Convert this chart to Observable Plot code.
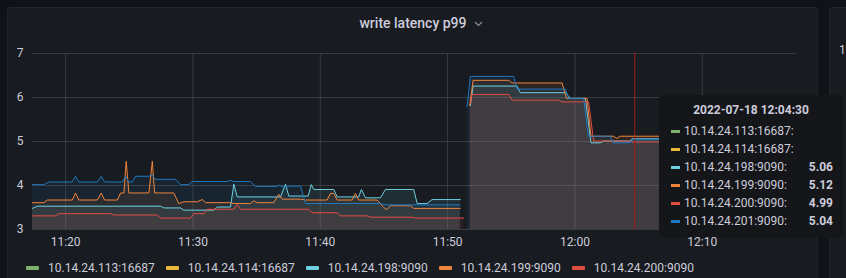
<!DOCTYPE html>
<html><head><meta charset="utf-8">
<script src="https://cdn.jsdelivr.net/npm/d3@7"></script>
<script src="https://cdn.jsdelivr.net/npm/@observablehq/plot@0.6"></script>
<style>
html,body{margin:0;padding:0;background:#111217;width:846px;height:278px;overflow:hidden;font-family:Roboto,"Noto Sans",sans-serif;}
#panel{position:absolute;left:7px;top:7px;width:811px;height:290px;background:#181b1f;border:1px solid #222429;border-radius:3px;box-sizing:border-box;}
#panel2{position:absolute;left:829px;top:7px;width:60px;height:290px;background:#181b1f;border:1px solid #222429;border-radius:3px;box-sizing:border-box;}
#p2label{position:absolute;left:839px;top:43px;color:#ccccdc;font-size:12px;}
#title{position:absolute;top:14px;left:0;width:842px;text-align:center;color:#ccccdc;font-size:14px;font-weight:500;line-height:18px;}
#title svg{vertical-align:middle;margin-left:7px;}
#chart{position:absolute;left:0;top:0;}
#legend{position:absolute;left:26px;top:260px;display:flex;align-items:center;color:#ccccdc;font-size:12px;white-space:nowrap;line-height:16px;}
#legend .it{display:flex;align-items:center;margin-right:11px;}
#legend .sw{width:13px;height:4px;margin-right:9px;border-radius:1px;}
#tooltip{position:absolute;left:659px;top:95px;width:184px;height:142px;background:#141619;border-radius:3px;color:#ccccdc;font-size:12px;}
#tooltip .hd{position:absolute;left:0;top:7px;width:100%;text-align:center;font-weight:700;line-height:16px;}
#tooltip .row{position:absolute;left:0;width:100%;height:16px;line-height:16px;}
#tooltip .sw{position:absolute;left:12px;top:7px;width:9px;height:3px;}
#tooltip .lb{position:absolute;left:25px;top:0;}
#tooltip .vl{position:absolute;right:10px;top:0;font-weight:700;}
</style></head>
<body>
<div id="panel"></div>
<div id="panel2"></div>
<div id="p2label">1</div>
<div id="title">write latency p99<svg width="9" height="6" viewBox="0 0 9 6"><polyline points="1,1 4.5,4.5 8,1" fill="none" stroke="#8e8e98" stroke-width="1.2"/></svg></div>
<div id="chart"></div>
<div id="legend"></div>
<div id="tooltip"></div>
<script>
// Series
const seriesNames = ["10.14.24.113:16687","10.14.24.114:16687","10.14.24.198:9090","10.14.24.199:9090","10.14.24.200:9090","10.14.24.201:9090"];
const seriesColors = ["#7EB26D","#EAB839","#6ED0E0","#EF843C","#E24D42","#1F78C1"];
const legendShown = 5;

// times: minutes after 11:00 on 2022-07-18; values: latency
const t113 = [], v113 = [];
const t114 = [], v114 = [];
const t198 = [17.4,17.78,27.46,27.72,29.03,29.29,31.64,31.91,32.95,33.21,33.48,36.88,37.27,37.53,39.05,39.29,39.49,41.06,41.33,43.02,43.23,43.55,44.73,45.12,47.34,47.61,48.39,48.78,51.0,51.3,51.79,52.00,55.45,55.71,59.25,59.64,60.82,61.26,61.99,62.25,64.35,64.5,77.0];
const v198 = [3.48,3.53,3.53,3.49,3.49,3.44,3.44,3.51,3.51,4.03,3.74,3.74,4.03,3.76,3.76,4.02,3.91,3.91,3.74,3.74,3.91,3.72,3.72,3.91,3.91,3.59,3.59,3.68,3.68,null,5.82,6.26,6.26,6.11,6.11,5.98,5.98,4.97,4.97,5.01,5.01,5.06,5.06];
const t199 = [17.4,18.30,18.56,20.53,20.78,21.04,22.49,22.80,23.06,24.06,24.32,24.58,24.76,24.97,26.54,26.81,26.99,28.50,28.89,29.29,30.34,30.73,30.99,32.95,33.21,34.52,34.78,35.05,36.35,36.74,37.01,38.45,38.84,40.54,40.80,41.06,41.33,42.50,42.76,43.02,44.47,44.98,45.24,45.51,47.08,47.34,51.0,51.3,51.73,52.00,54.80,55.06,58.99,59.33,60.95,61.26,63.04,63.30,63.56,77.0];
const v199 = [3.61,3.61,3.67,3.67,3.83,3.67,3.67,3.83,3.67,3.67,3.83,3.83,4.55,3.83,3.83,4.55,3.83,3.83,3.59,3.63,3.63,3.68,3.61,3.61,3.59,3.59,3.65,3.61,3.61,3.80,3.69,3.69,3.67,3.67,3.82,3.82,3.67,3.67,3.82,3.67,3.67,3.50,3.45,3.54,3.54,3.48,3.48,null,5.82,6.39,6.39,6.33,6.33,5.98,5.98,5.12,5.12,5.07,5.12,5.12];
const t200 = [17.4,19.22,19.47,23.53,23.79,27.20,27.46,29.81,30.07,30.86,31.12,33.21,33.48,33.74,39.10,39.36,41.33,41.59,43.68,43.94,47.21,47.47,51.26,51.5,51.79,51.92,54.80,55.06,58.72,58.99,61.07,61.47,64.35,64.5,77.0];
const v200 = [3.31,3.31,3.36,3.36,3.33,3.33,3.26,3.26,3.36,3.36,3.46,3.46,3.57,3.46,3.46,3.38,3.38,3.31,3.31,3.28,3.28,3.26,3.26,null,5.86,6.07,6.07,5.94,5.94,5.90,5.90,5.01,5.01,4.99,4.99];
const t201 = [17.4,18.30,18.69,20.53,20.78,21.04,22.49,22.80,23.06,24.45,24.71,24.97,25.24,25.49,26.54,26.81,27.06,28.63,29.03,29.68,29.94,32.69,32.95,33.21,34.52,34.91,36.62,36.74,37.01,38.45,38.84,44.73,45.12,51.0,51.3,51.53,51.79,55.19,55.45,59.25,59.51,60.68,61.05,62.78,62.99,64.35,64.5,77.0];
const v201 = [4.02,4.02,4.08,4.08,4.21,4.08,4.08,4.21,4.08,4.08,4.21,4.08,4.08,4.21,4.21,4.24,4.14,4.14,4.02,4.02,4.09,4.09,4.12,4.09,4.09,3.98,3.98,4.01,3.98,3.99,3.59,3.59,3.56,3.56,null,5.79,6.48,6.48,6.19,6.19,5.98,5.98,5.12,5.12,4.97,4.97,5.04,5.04];

const xTicks = ["11:20","11:30","11:40","11:50","12:00","12:10"];
const yTicks = [3,4,5,6,7];
const xDomainMin = [17.4, 77.4];
const hoverTime = "2022-07-18 12:04:30";
const cursorMin = 64.7;
const hoverValues = [null,null,"5.06","5.12","4.99","5.04"];

const base = Date.UTC(2022,6,18,11,0,0);
const toDate = m => new Date(base + m*60000);
const parseHM = s => { const [h,m] = s.split(":").map(Number); return new Date(Date.UTC(2022,6,18,h,m,0)); };
const xTickDates = xTicks.map(parseHM);

const times = [t113,t114,t198,t199,t200,t201];
const values = [v113,v114,v198,v199,v200,v201];
const rows = [];
seriesNames.forEach((s,i) => times[i].forEach((t,j) => rows.push({s, t: toDate(t), v: values[i][j] == null ? NaN : values[i][j]})));

const chart = Plot.plot({
  width: 846, height: 250,
  marginLeft: 32, marginRight: 50, marginTop: 53, marginBottom: 21,
  style: {background: "transparent", color: "#ccccdc", fontFamily: "Roboto", fontSize: "12px"},
  x: {type: "utc", domain: xDomainMin.map(toDate), ticks: xTickDates, tickFormat: d3.utcFormat("%H:%M"), tickSize: 0, tickPadding: 8, label: null},
  y: {domain: [3,7], ticks: yTicks, tickFormat: d3.format("d"), tickSize: 0, tickPadding: 9, label: null},
  color: {domain: seriesNames, range: seriesColors},
  marks: [
    Plot.ruleY(yTicks, {stroke: "#393b40"}),
    Plot.ruleX(xTickDates, {stroke: "#393b40"}),
    Plot.areaY(rows, {x: "t", y1: 3, y2: "v", z: "s", fill: "s", fillOpacity: 0.1}),
    Plot.line(rows, {x: "t", y: "v", z: "s", stroke: "s", strokeWidth: 1}),
    Plot.ruleX([toDate(cursorMin)], {stroke: "#a51c1c", strokeWidth: 1})
  ]
});
document.getElementById("chart").appendChild(chart);

// legend
const lg = document.getElementById("legend");
seriesNames.slice(0, legendShown).forEach((s,i) => {
  const it = document.createElement("div"); it.className = "it";
  it.innerHTML = `<div class="sw" style="background:${seriesColors[i]}"></div><span>${s}</span>`;
  lg.appendChild(it);
});

// tooltip
const tt = document.getElementById("tooltip");
const hd = document.createElement("div"); hd.className = "hd"; hd.textContent = hoverTime; tt.appendChild(hd);
seriesNames.forEach((s,i) => {
  const r = document.createElement("div"); r.className = "row"; r.style.top = (28 + i*18) + "px";
  r.innerHTML = `<div class="sw" style="background:${seriesColors[i]}"></div><span class="lb">${s}:</span>` + (hoverValues[i] ? `<span class="vl">${hoverValues[i]}</span>` : "");
  tt.appendChild(r);
});
</script>
</body></html>
